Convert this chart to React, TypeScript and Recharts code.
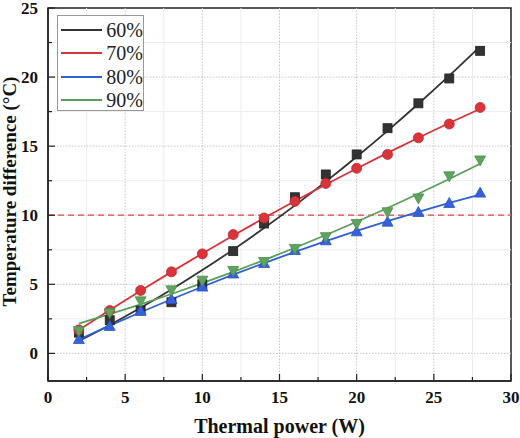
import React from 'react';
import { ComposedChart, Line, XAxis, YAxis, ReferenceLine, ReferenceArea } from 'recharts';

// ---- data ----
const powerW = [2, 4, 6, 8, 10, 12, 14, 16, 18, 20, 22, 24, 26, 28];
const dT60 = [1.5, 2.4, 3.1, 3.7, 5.0, 7.4, 9.4, 11.3, 12.95, 14.4, 16.3, 18.1, 19.9, 21.9];
const dT70 = [1.7, 3.1, 4.55, 5.9, 7.2, 8.6, 9.8, 11.0, 12.3, 13.4, 14.4, 15.6, 16.6, 17.8];
const dT80 = [1.0, 1.95, 3.05, 3.9, 4.8, 5.75, 6.5, 7.45, 8.15, 8.8, 9.5, 10.2, 10.85, 11.6];
const dT90 = [1.65, 2.95, 3.8, 4.6, 5.3, 6.0, 6.65, 7.6, 8.45, 9.4, 10.25, 11.25, 12.85, 14.0];
const seriesNames = ['60%', '70%', '80%', '90%'];
const xTicks = [0, 2.5, 5, 7.5, 10, 12.5, 15, 17.5, 20, 22.5, 25, 27.5, 30];
const yTicks = [0, 2.5, 5, 7.5, 10, 12.5, 15, 17.5, 20, 22.5, 25];
const xMajorGrid = [5, 10, 15, 20, 25];
const xMinorGrid = [2.5, 7.5, 12.5, 17.5, 22.5, 27.5];
const yMajorGrid = [0, 5, 10, 15, 20];
const yMinorGrid = [2.5, 7.5, 12.5, 17.5, 22.5];
const thresholdC = 10;

const FONT = "'Liberation Serif', 'Times New Roman', Times, serif";
const COLORS = ['#333333', '#d8343a', '#3060d8', '#5a9e5a'];
const seriesData = [dT60, dT70, dT80, dT90];

// quadratic least-squares fit
function fit2(xs: number[], ys: number[]) {
  let s0 = 0, s1 = 0, s2 = 0, s3 = 0, s4 = 0, t0 = 0, t1 = 0, t2 = 0;
  xs.forEach((x, i) => {
    const y = ys[i];
    s0 += 1; s1 += x; s2 += x * x; s3 += x * x * x; s4 += x * x * x * x;
    t0 += y; t1 += x * y; t2 += x * x * y;
  });
  const det = (m: number[][]) =>
    m[0][0] * (m[1][1] * m[2][2] - m[1][2] * m[2][1]) -
    m[0][1] * (m[1][0] * m[2][2] - m[1][2] * m[2][0]) +
    m[0][2] * (m[1][0] * m[2][1] - m[1][1] * m[2][0]);
  const A = [[s0, s1, s2], [s1, s2, s3], [s2, s3, s4]];
  const B = [t0, t1, t2];
  const D = det(A);
  const coef = [0, 1, 2].map((k) => {
    const M = A.map((row, r) => row.map((v, c) => (c === k ? B[r] : v)));
    return det(M) / D;
  });
  return (x: number) => coef[0] + coef[1] * x + coef[2] * x * x;
}

const fits = seriesData.map((ys) => fit2(powerW, ys));

const data = powerW.map((x, i) => ({
  x,
  m60: dT60[i], m70: dT70[i], m80: dT80[i], m90: dT90[i],
  f60: fits[0](x), f70: fits[1](x), f80: fits[2](x), f90: fits[3](x),
}));

const keys = ['60', '70', '80', '90'];

const Square = (p: any) => (
  <rect key={p.key ?? `s${p.index}`} x={p.cx - 4.5} y={p.cy - 4.5} width={9} height={9} fill="#333" stroke="#222" strokeWidth={0.8} />
);
const Circle = (p: any) => (
  <circle key={p.key ?? `c${p.index}`} cx={p.cx} cy={p.cy} r={5} fill="#d8343a" stroke="#c02a30" strokeWidth={0.8} />
);
const TriUp = (p: any) => (
  <polygon key={p.key ?? `u${p.index}`} points={`${p.cx},${p.cy - 6} ${p.cx - 5.5},${p.cy + 4} ${p.cx + 5.5},${p.cy + 4}`} fill="#3562dc" stroke="#2a52c0" strokeWidth={0.8} />
);
const TriDown = (p: any) => (
  <polygon key={p.key ?? `d${p.index}`} points={`${p.cx},${p.cy + 6} ${p.cx - 5.5},${p.cy - 4} ${p.cx + 5.5},${p.cy - 4}`} fill="#5ea35e" stroke="#4e904e" strokeWidth={0.8} />
);
const markers = [Square, Circle, TriUp, TriDown];

const TICK_GAP = 10;

const XTick = (p: any) => {
  const v = p.payload.value;
  const major = v % 5 === 0;
  const axisY = p.y - TICK_GAP;
  return (
    <g>
      <line x1={p.x} x2={p.x} y1={axisY} y2={axisY - (major ? 7 : 4)} stroke="#222" strokeWidth={1.2} />
      {major && (
        <text x={p.x} y={p.y} dy="0.71em" textAnchor="middle" style={{ fontFamily: FONT, fontWeight: 700, fontSize: 17 }} fill="#111">
          {v}
        </text>
      )}
    </g>
  );
};

const YTick = (p: any) => {
  const v = p.payload.value;
  const major = v % 5 === 0;
  const axisX = p.x + TICK_GAP;
  return (
    <g>
      <line x1={axisX} x2={axisX + (major ? 7 : 4)} y1={p.y} y2={p.y} stroke="#222" strokeWidth={1.2} />
      {major && (
        <text x={p.x} y={p.y} dy="0.35em" textAnchor="end" style={{ fontFamily: FONT, fontWeight: 700, fontSize: 17 }} fill="#111">
          {v}
        </text>
      )}
    </g>
  );
};

const YLabel = (p: any) => {
  const vb = p.viewBox || { x: 0, y: 8, width: 48, height: 373 };
  const x = vb.x + 16;
  const y = vb.y + vb.height / 2 - 3;
  return (
    <text x={x} y={y} transform={`rotate(-90, ${x}, ${y})`} textAnchor="middle" style={{ fontFamily: FONT, fontWeight: 700, fontSize: 19 }} fill="#111">
      Temperature difference (°C)
    </text>
  );
};

const LegendBox = () => (
  <div
    style={{
      position: 'absolute', left: 57, top: 15, width: 87, height: 96,
      border: '1px solid #999', background: '#fff', boxSizing: 'border-box', paddingTop: 2,
    }}
  >
    {seriesNames.map((n, i) => (
      <div key={n} style={{ height: 23.5, display: 'flex', alignItems: 'center' }}>
        <div style={{ marginLeft: 3, width: 43, height: 2, background: COLORS[i] }} />
        <span style={{ marginLeft: 4, fontFamily: FONT, fontSize: 20, color: '#222', lineHeight: '20px' }}>{n}</span>
      </div>
    ))}
  </div>
);

export default function App() {
  return (
    <div style={{ position: 'absolute', left: 0, top: 0, width: 520, height: 438, background: '#fff', fontFamily: FONT }}>
      <ComposedChart width={520} height={438} data={data} margin={{ top: 8, right: 9, bottom: 0, left: 0 }}>
        <XAxis
          dataKey="x" type="number" domain={[0, 30]} ticks={xTicks} interval={0}
          height={57} tickSize={0} tickMargin={TICK_GAP} tick={<XTick />} tickLine={false}
          axisLine={{ stroke: '#222', strokeWidth: 1.5 }}
          label={{ value: 'Thermal power (W)', position: 'insideBottom', offset: 5, fontFamily: FONT, fontWeight: 'bold', fontSize: 20, fill: '#111' }}
        />
        <YAxis
          type="number" domain={[-2, 25]} ticks={yTicks} interval={0} allowDataOverflow
          width={48} tickSize={0} tickMargin={TICK_GAP} tick={<YTick />} tickLine={false}
          axisLine={{ stroke: '#222', strokeWidth: 1.5 }}
          label={<YLabel />}
        />
        {xMinorGrid.map((v) => (
          <ReferenceLine key={`xm${v}`} x={v} stroke="#ececec" strokeWidth={1} />
        ))}
        {yMinorGrid.map((v) => (
          <ReferenceLine key={`ym${v}`} y={v} stroke="#ececec" strokeWidth={1} />
        ))}
        {xMajorGrid.map((v) => (
          <ReferenceLine key={`xM${v}`} x={v} stroke="#c4c4c4" strokeWidth={1} strokeDasharray="1.5 1.5" />
        ))}
        {yMajorGrid.map((v) => (
          <ReferenceLine key={`yM${v}`} y={v} stroke="#c4c4c4" strokeWidth={1} strokeDasharray="1.5 1.5" />
        ))}
        <ReferenceLine y={thresholdC} stroke="#e04848" strokeWidth={1.2} strokeDasharray="6 4" />
        {keys.map((k, i) => (
          <Line key={`f${k}`} dataKey={`f${k}`} type="monotone" stroke={COLORS[i]} strokeWidth={1.8} dot={false} activeDot={false} isAnimationActive={false} />
        ))}
        {keys.map((k, i) => (
          <Line key={`m${k}`} dataKey={`m${k}`} stroke="none" dot={markers[i]} activeDot={false} isAnimationActive={false} />
        ))}
        <ReferenceArea x1={0} x2={30} y1={-2} y2={25} fill="none" stroke="#222" strokeWidth={1.5} />
      </ComposedChart>
      <LegendBox />
    </div>
  );
}
